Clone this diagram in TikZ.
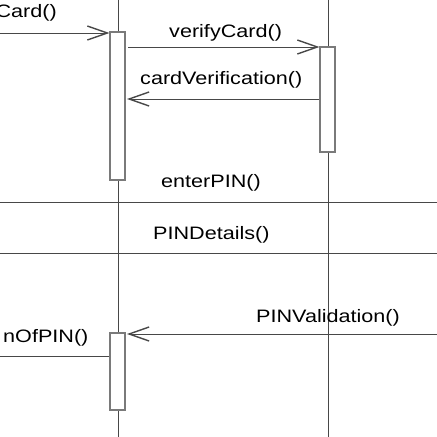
\documentclass[tikz,border=0pt]{standalone}
\usepackage{fontspec}
\newfontfamily\lblfont[FakeStretch=1.2]{Liberation Sans}
\usetikzlibrary{arrows.meta,calc}
\definecolor{linec}{HTML}{484848}
\definecolor{boxc}{HTML}{7a7a7a}
\begin{document}
\begin{tikzpicture}[x=1pt,y=-1pt,
  lbl/.style={inner sep=0pt,anchor=base west,font=\lblfont\fontsize{18}{20}\selectfont,text=black},
  act/.style={draw=boxc,fill=white,line width=1.1pt,minimum width=15pt,inner sep=0pt},
  msg/.style={draw=linec,line width=0.9pt,-{Straight Barb[length=20pt,width=14pt,line width=1.4pt]}},
  plain/.style={draw=linec,line width=0.9pt},
  life/.style={draw=linec,line width=0.8pt}]
\useasboundingbox (0,0) rectangle (437,437);
% lifelines
\coordinate (l1t) at (118,0); \coordinate (l1b) at (118,437);
\coordinate (l2t) at (328,0); \coordinate (l2b) at (328,437);
\draw[life] (l1t) -- (l1b);
\draw[life] (l2t) -- (l2b);
% separators
\coordinate (s1a) at (0,202); \coordinate (s1b) at (437,202);
\coordinate (s2a) at (0,253); \coordinate (s2b) at (437,253);
\draw[plain] (s1a) -- (s1b);
\draw[plain] (s2a) -- (s2b);
% activation boxes
\node[act,minimum height=148pt] (b1) at (117.5,106) {};
\node[act,minimum height=105pt] (b2) at (327.5,99.5) {};
\node[act,minimum height=77pt] (b3) at (117.5,371.5) {};
% messages
\coordinate (m1) at (0,33);
\draw[msg] (m1) -- (m1 -| b1.west);
\coordinate (m2) at (128,47);
\draw[msg] (m2) -- (m2 -| b2.west);
\coordinate (m3) at (127,99);
\draw[msg] (m3 -| b2.west) -- (m3);
\coordinate (m4a) at (437,334); \coordinate (m4b) at (127,334);
\draw[msg] (m4a) -- (m4b);
\coordinate (m5) at (0,356);
\draw[plain] (m5) -- (m5 -| b3.west);
% labels
\node[lbl,anchor=base east] (t1) at (57,17) {Card()};
\node[lbl] (t2) at (169,37) {verifyCard()};
\node[lbl] (t3) at (140,84) {cardVerification()};
\node[lbl] (t4) at (161,187) {enterPIN()};
\node[lbl] (t5) at (153,239) {PINDetails()};
\node[lbl] (t6) at (256,322) {PINValidation()};
\node[lbl] (t7) at (3,342) {nOfPIN()};
\end{tikzpicture}
\end{document}
